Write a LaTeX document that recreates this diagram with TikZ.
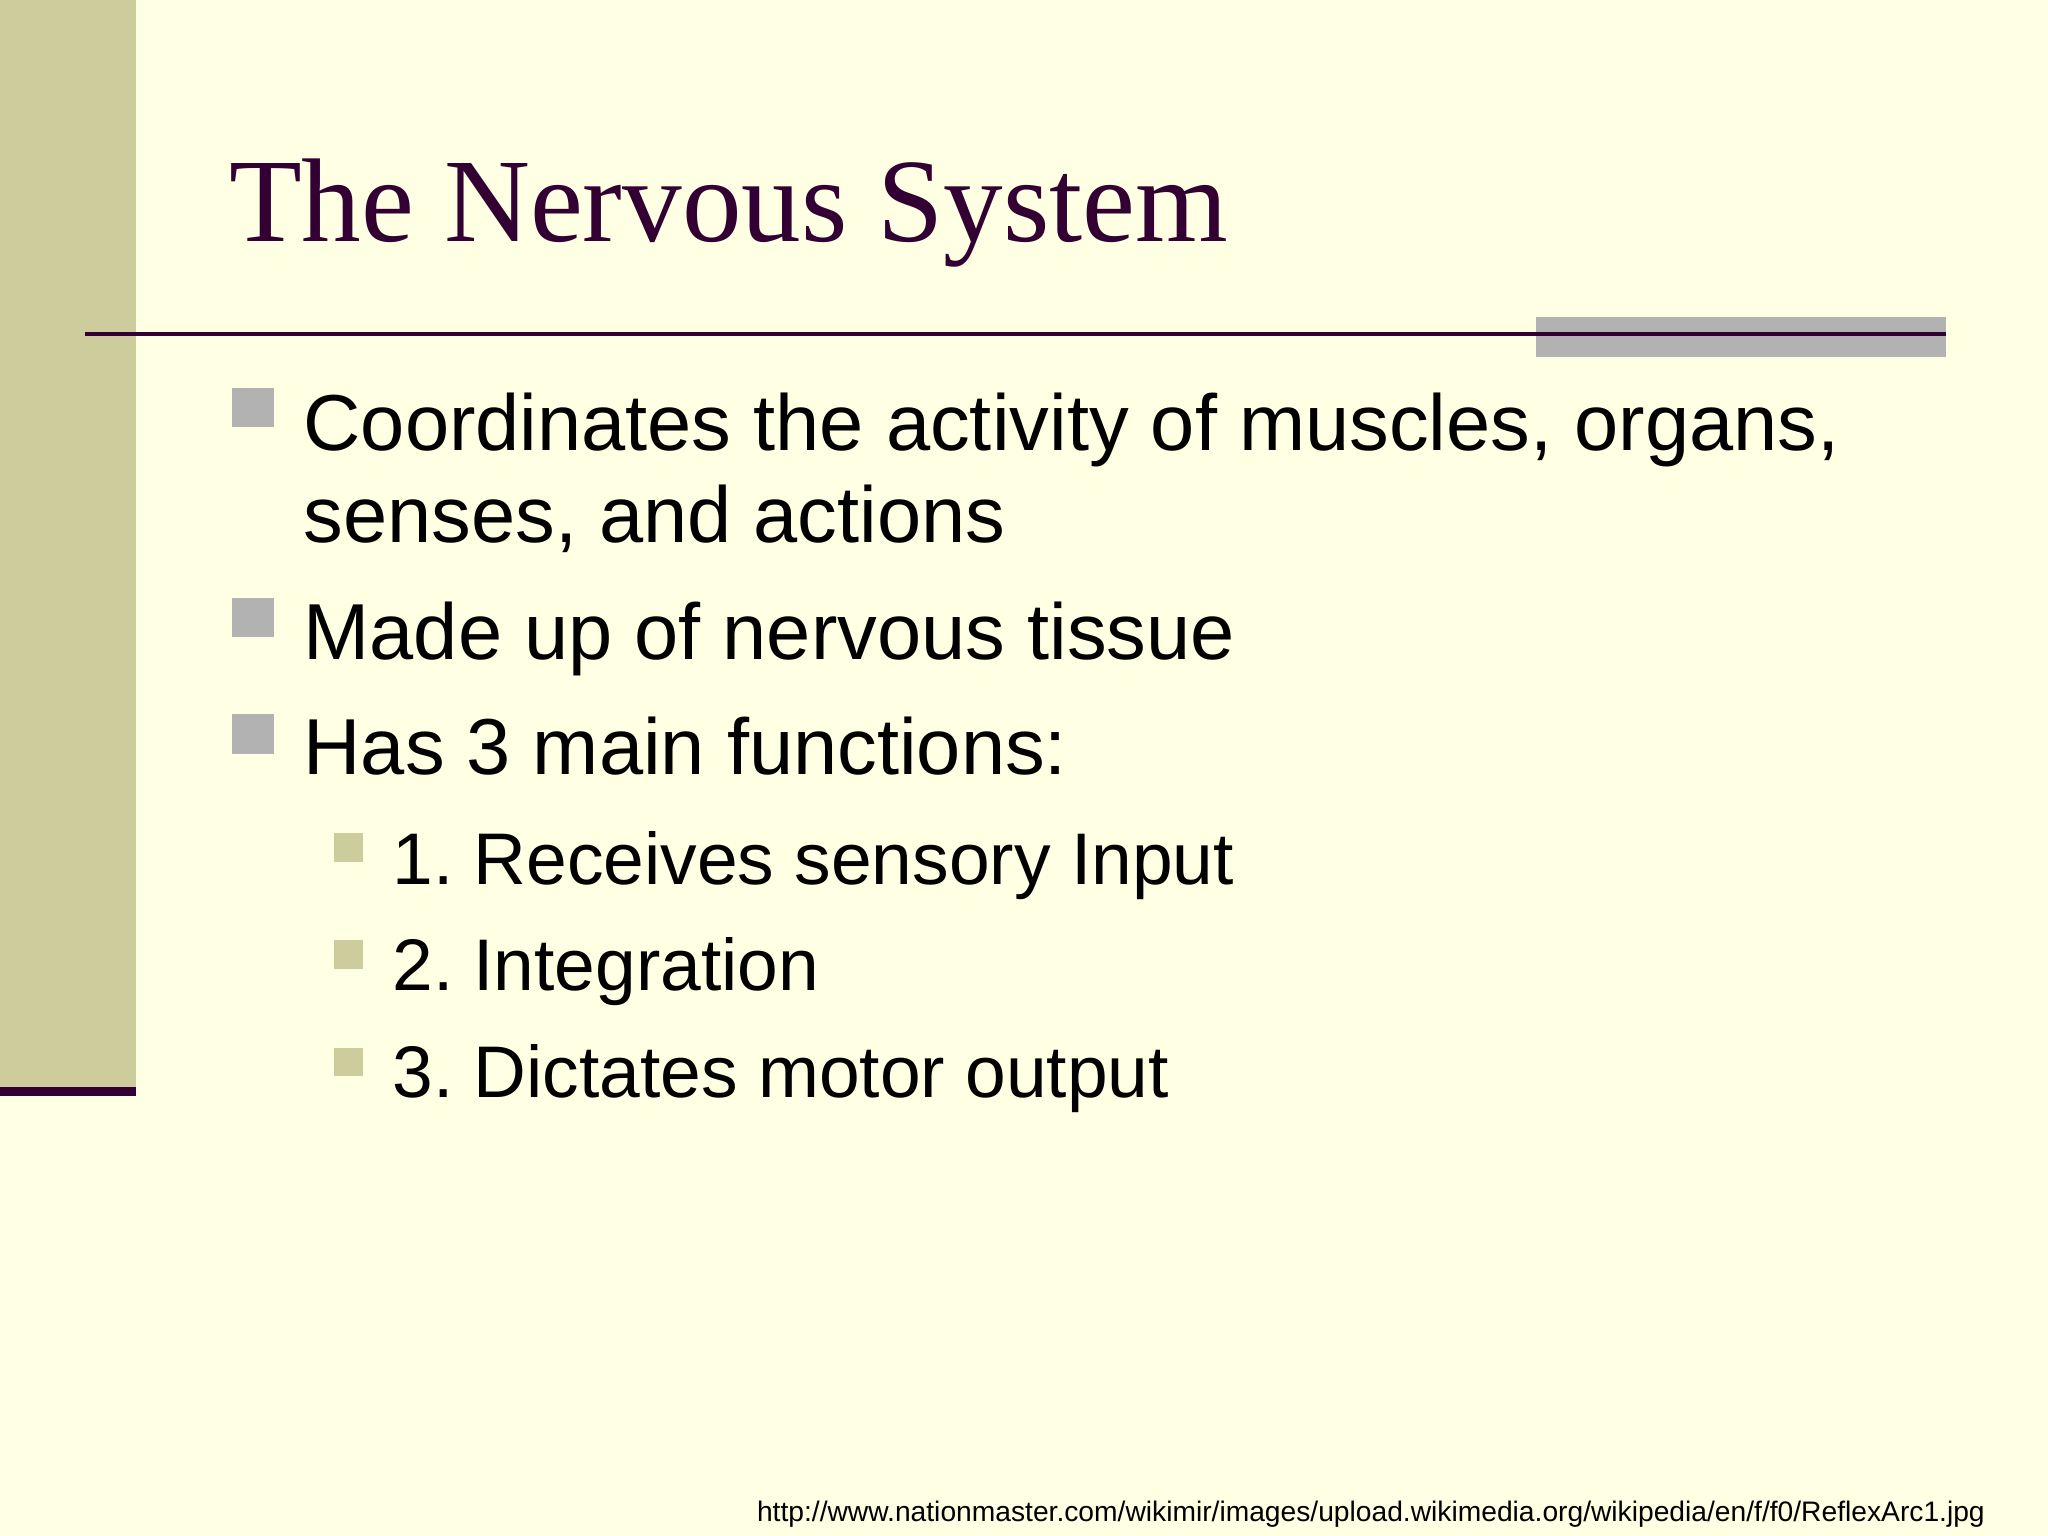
\documentclass[tikz,border=0pt]{standalone}
\usepackage{fontspec}
\setmainfont{Liberation Sans}
\newfontfamily\serifx{Liberation Serif}
\frenchspacing
\definecolor{bg}{HTML}{FFFFE3}
\definecolor{barc}{HTML}{CCCC9C}
\definecolor{purp}{HTML}{330033}
\definecolor{grayb}{HTML}{B2B2B2}
\tikzset{
  body/.style={anchor=base west,inner sep=0pt,font=\fontsize{30.4}{36}\selectfont,text=black},
  sub/.style={anchor=base west,inner sep=0pt,font=\fontsize{28}{33}\selectfont,text=black},
  bsq/.style={fill=grayb,draw=none},
  ssq/.style={fill=barc,draw=none}
}
\begin{document}
\begin{tikzpicture}[x=0.5pt,y=-0.5pt]
\useasboundingbox (0,0) rectangle (1568,1176);
\fill[bg] (0,0) rectangle (1568,1176);
\fill[barc] (0,0) rectangle (104,839);
\fill[purp] (0,832) rectangle (104,839);
\fill[grayb] (1176,243) rectangle (1490,273);
\draw[purp,line width=1.5pt] (65,256) -- (1490,256);
\node[anchor=base west,inner sep=0pt,text=purp,font=\serifx\fontsize{45.6}{52}\selectfont] (title) at (175,185) {The Nervous System};
\fill[bsq] (178,297) rectangle (210,327);
\node[body] (b1) at (232,345) {Coordinates the activity of muscles, organs,};
\node[body] (b1b) at (232,415) {senses, and actions};
\fill[bsq] (178,458) rectangle (210,488);
\node[body] (b2) at (232,505) {Made up of nervous tissue};
\fill[bsq] (178,547) rectangle (210,577);
\node[body] (b3) at (232,593) {Has 3 main functions:};
\fill[ssq] (256,638) rectangle (278,660);
\node[sub] (s1) at (300,677) {1. Receives sensory Input};
\fill[ssq] (256,720) rectangle (278,742);
\node[sub] (s2) at (300,758) {2. Integration};
\fill[ssq] (256,802) rectangle (278,824);
\node[sub] (s3) at (300,840) {3. Dictates motor output};
\node[anchor=base east,inner sep=0pt,font=\fontsize{10.8}{13}\selectfont] (url) at (1520,1165) {http://www.nationmaster.com/wikimir/images/upload.wikimedia.org/wikipedia/en/f/f0/ReflexArc1.jpg};
\end{tikzpicture}
\end{document}
